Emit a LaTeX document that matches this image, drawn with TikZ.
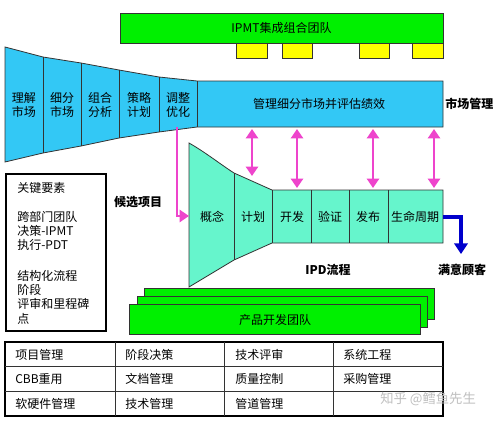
\documentclass[tikz,border=0pt]{standalone}
\usepackage{fontspec}
\setmainfont{Noto Sans CJK SC}
\usetikzlibrary{arrows.meta}
\definecolor{skyb}{HTML}{33C8F5}
\definecolor{brgreen}{HTML}{00F000}
\definecolor{yel}{HTML}{FFFF00}
\definecolor{aqua}{HTML}{66F5CC}
\definecolor{pinkar}{HTML}{EE44CC}
\definecolor{darkbl}{HTML}{0000CC}
\tikzset{
  lbl/.style={font=\fontsize{9}{11}\selectfont, align=center, inner sep=0pt},
  blbl/.style={font=\fontsize{9}{11}\selectfont\bfseries, inner sep=0pt},
  tcell/.style={font=\fontsize{9}{11}\selectfont, anchor=west, inner sep=0pt},
  keyline/.style={font=\fontsize{9}{11}\selectfont, anchor=west, inner sep=0pt},
  pinkarrow/.style={pinkar, line width=2.2pt, {Triangle[length=7pt,width=9pt]}-{Triangle[length=7pt,width=9pt]}},
  fill1/.style={draw=black!80, line width=0.6pt},
}
\begin{document}
\begin{tikzpicture}[x=0.75pt,y=-0.75pt]
\useasboundingbox (0,0) rectangle (496,421);
\fill[white] (0,0) rectangle (496,421);

% IPMT bar
\draw[fill1, fill=brgreen] (120,13) rectangle (443,43);
\node[lbl] (ipmt) at (281.5,28) {IPMT集成组合团队};
\foreach \a/\b in {236/267, 282/312, 359/389, 412/443}{
  \draw[fill1, fill=yel] (\a,43) rectangle (\b,58);
}

% Blue funnel
\draw[fill1, fill=skyb] (5,47) -- (43,57) -- (81,63) -- (119,70) -- (159,77) -- (197,81) -- (443,81) -- (443,127) -- (197,127) -- (159,132) -- (119,138) -- (81,146) -- (43,153) -- (5,162) -- cycle;
\draw[fill1] (43,57) -- (43,153);
\draw[fill1] (81,63) -- (81,146);
\draw[fill1] (119,70) -- (119,138);
\draw[fill1] (159,77) -- (159,132);
\draw[fill1] (197,81) -- (197,127);
\node[lbl] (m1) at (24,105) {理解\\市场};
\node[lbl] (m2) at (62,105) {细分\\市场};
\node[lbl] (m3) at (100,105) {组合\\分析};
\node[lbl] (m4) at (139,105) {策略\\计划};
\node[lbl] (m5) at (178,105) {调整\\优化};
\node[lbl] (mgmt) at (319,104) {管理细分市场并评估绩效};
\node[blbl, anchor=west] (mktlabel) at (445,104) {市场管理};

% Green stacked team bars
\draw[fill1, fill=brgreen] (144,288) rectangle (434,319);
\draw[fill1, fill=brgreen] (137,296) rectangle (427,327);
\draw[fill1, fill=brgreen] (129,304) rectangle (420,334);
\node[lbl] (pdt) at (275,320) {产品开发团队};

% Aqua IPD funnel
\draw[fill1, fill=aqua] (189,143) .. controls (205,152) and (220,164) .. (234,173) -- (272,190) -- (443,190) -- (443,243) -- (272,243) -- (234,260) -- (189,287) -- cycle;
\draw[fill1] (234,173) -- (234,260);
\draw[fill1] (272,190) -- (272,243);
\draw[fill1] (311,190) -- (311,243);
\draw[fill1] (349,190) -- (349,243);
\draw[fill1] (388,190) -- (388,243);
\node[lbl] (s1) at (212,217) {概念};
\node[lbl] (s2) at (253,217) {计划};
\node[lbl] (s3) at (292,217) {开发};
\node[lbl] (s4) at (330,217) {验证};
\node[lbl] (s5) at (368,217) {发布};
\node[lbl] (s6) at (415,217) {生命周期};

% Pink arrows
\coordinate (pk1) at (177,127);
\coordinate (pk2) at (177,216);
\coordinate (pk3) at (189,216);
\draw[pinkar, line width=2.2pt, -{Triangle[length=7pt,width=9pt]}] (pk1) -- (pk2) -- (pk3);
\foreach \x/\yb in {252/176, 297/188, 373/188, 434/188}{
  \draw[pinkarrow] (\x,129) -- (\x,\yb);
}

% Blue arrow
\coordinate (ba1) at (443,217);
\coordinate (ba2) at (461,217);
\coordinate (ba3) at (461,254);
\draw[darkbl, line width=2.4pt, -{Triangle[length=8pt,width=10pt]}] (ba1) -- (ba2) -- (ba3);

\node[blbl] (cand) at (138,202) {候选项目};
\node[blbl] (ipd) at (328,270) {IPD流程};
\node[blbl] (cust) at (462,270) {满意顾客};

% Key box
\draw[black, line width=2pt] (6,174) rectangle (106,331);
\node[keyline] (k1) at (17,188) {关键要素};
\node[keyline] (k2) at (17,217) {跨部门团队};
\node[keyline] (k3) at (17,231) {决策-IPMT};
\node[keyline] (k4) at (17,245) {执行-PDT};
\node[keyline] (k5) at (17,276) {结构化流程};
\node[keyline] (k6) at (17,290) {阶段};
\node[keyline] (k7) at (17,304) {评审和里程碑};
\node[keyline] (k8) at (17,319) {点};

% Table
\draw[black, line width=2pt] (5,342) rectangle (443,416);
\draw[black!80, line width=0.6pt] (5,366) -- (443,366);
\draw[black!80, line width=0.6pt] (5,391) -- (443,391);
\draw[black!80, line width=0.6pt] (115,342) -- (115,416);
\draw[black!80, line width=0.6pt] (224,342) -- (224,416);
\draw[black!80, line width=0.6pt] (333,342) -- (333,416);
\node[tcell] (t11) at (15,355) {项目管理};
\node[tcell] (t12) at (125,355) {阶段决策};
\node[tcell] (t13) at (235,355) {技术评审};
\node[tcell] (t14) at (343,355) {系统工程};
\node[tcell] (t21) at (15,379) {CBB重用};
\node[tcell] (t22) at (125,379) {文档管理};
\node[tcell] (t23) at (235,379) {质量控制};
\node[tcell] (t24) at (343,379) {采购管理};
\node[tcell] (t31) at (15,404) {软硬件管理};
\node[tcell] (t32) at (125,404) {技术管理};
\node[tcell] (t33) at (235,404) {管道管理};
\node[font=\fontsize{10}{12}\selectfont, text=black!25, anchor=west, inner sep=0pt] (wm) at (380,399) {知乎 @鳕鱼先生};
\end{tikzpicture}
\end{document}
